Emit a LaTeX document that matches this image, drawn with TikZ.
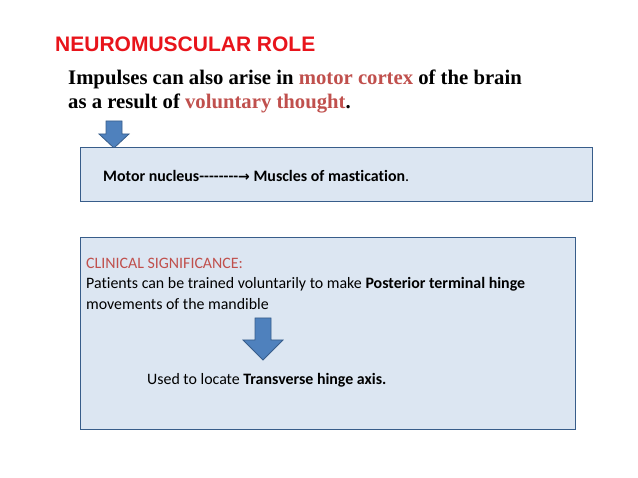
\documentclass[tikz,border=0pt]{standalone}
\usepackage{fontspec}
\setmainfont{Liberation Serif}
\newfontfamily\arialf{Liberation Sans}
\newfontfamily\calf[Ligatures=NoCommon]{Carlito}
\newfontfamily\djv{DejaVu Sans}
\definecolor{boxfill}{HTML}{DCE6F2}
\definecolor{boxline}{HTML}{385D8A}
\definecolor{arrfill}{HTML}{4F81BD}
\definecolor{redt}{HTML}{C0504D}
\definecolor{titler}{HTML}{E8141B}
\begin{document}
\begin{tikzpicture}[x=1pt,y=-1pt,
  panel/.style={draw=boxline,fill=boxfill,line width=1pt},
  blockarrow/.style={fill=arrfill,draw=boxline,line width=0.8pt},
  txt/.style={anchor=west,inner sep=0pt},
  bt/.style={txt,font=\calf\fontsize{15.9}{18}\selectfont}]
\useasboundingbox (0,0) rectangle (638,478);
\node[txt,font=\arialf\bfseries\fontsize{21}{24}\selectfont,text=titler] (title) at (55,44) {NEUROMUSCULAR ROLE};
\node[txt,font=\bfseries\fontsize{20.7}{24}\selectfont] (l1) at (68,79) {Impulses can also arise in \textcolor{redt}{motor cortex} of the brain};
\node[txt,font=\bfseries\fontsize{20.7}{24}\selectfont] (l2) at (68,104) {as a result of \textcolor{redt}{voluntary thought}.};
\draw[blockarrow] (106,121) -- (122,121) -- (122,134) -- (129,134) -- (114,148) -- (99,134) -- (106,134) -- cycle;
\draw[panel] (80,148) rectangle (592,202);
\node[bt] (b1) at (103,176) {\textbf{Motor nucleus--------}{\djv\bfseries\fontsize{14}{16}\selectfont →} \textbf{Muscles of mastication}.};
\draw[panel] (80,238) rectangle (575,430);
\node[bt,text=redt] (cs) at (86,263) {CLINICAL SIGNIFICANCE:};
\node[bt] (p1) at (86,284) {Patients can be trained voluntarily to make \textbf{Posterior terminal hinge}};
\node[bt] (p2) at (86,304) {movements of the mandible};
\draw[blockarrow] (255,318) -- (271,318) -- (271,340) -- (283,340) -- (263,360) -- (243,340) -- (255,340) -- cycle;
\node[bt] (u) at (147,380) {Used to locate \textbf{Transverse hinge axis.}};
\end{tikzpicture}
\end{document}
